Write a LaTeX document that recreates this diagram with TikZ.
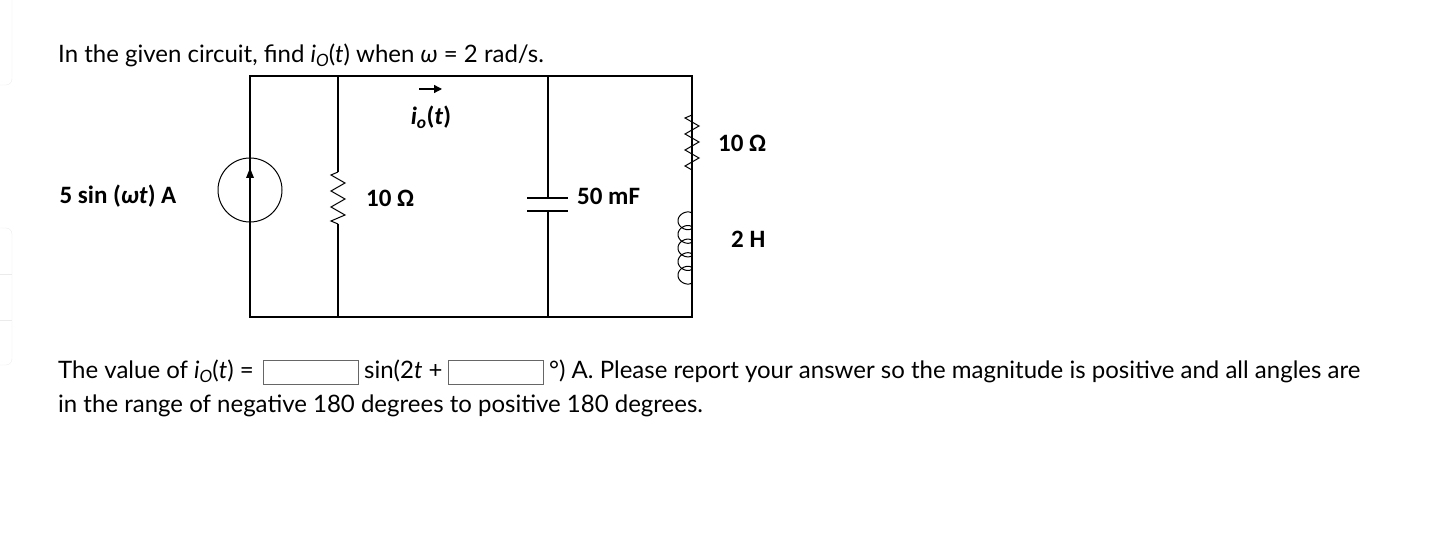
\documentclass[tikz,border=0pt]{standalone}
\usepackage{fontspec}
\setmainfont{Lato}
\newfontfamily\calfont{Carlito}
\usetikzlibrary{arrows.meta}
\begin{document}
\begin{tikzpicture}[x=1pt,y=-1pt,
  wire/.style={line width=1.3pt},
  lbl/.style={font=\calfont\bfseries\fontsize{25}{28}\selectfont,inner sep=0},
  txt/.style={font=\fontsize{24}{28}\selectfont,anchor=west,inner sep=0},
  ans/.style={draw=black!60,line width=0.6pt}]
\useasboundingbox (0,0) rectangle (1430,545);
% faint side boxes
\draw[black!8,rounded corners=6] (-10,-10) rectangle (12,85);
\draw[black!8,rounded corners=6] (-10,228) rectangle (12,365);
\draw[black!8] (-10,274)--(12,274) (-10,320)--(12,320);
\node[txt] (q) at (58,55) {In the given circuit, find \textit{i}\raisebox{-0.35ex}{\fontsize{17}{18}\selectfont\textit{O}}(\textit{t}) when \textit{ω} = 2 rad/s.};
% nodes
\coordinate (tl) at (250,76); \coordinate (tr) at (692,76);
\coordinate (bl) at (250,317); \coordinate (br) at (692,317);
\coordinate (rt) at (338,76); \coordinate (rb) at (338,317);
\coordinate (ct) at (548,76); \coordinate (cb) at (548,317);
\node[draw,circle,minimum size=64pt,line width=1pt,inner sep=0] (src) at (250,190) {};
\draw[wire] (tl)--(src.north) (src.south)--(bl);
\draw[wire] (tl)--(tr)--(br)--(bl)--cycle;
\coordinate (sa) at (250,208); \coordinate (sb) at (250,177);
\draw[line width=1.2pt] (sa)--(sb);
\fill (250,168)--(246,178)--(254,178)--cycle;
% resistor 1
\coordinate (r1a) at (338,172); \coordinate (r1b) at (338,224);
\draw[wire] (rt)--(r1a) (r1b)--(rb);
\draw[line width=1pt] (r1a)--(331,175)--(345,183)--(331,191)--(345,199)--(331,207)--(345,215)--(331,221)--(r1b);
% capacitor
\coordinate (c1) at (548,198); \coordinate (c2) at (548,211);
\draw[wire] (ct)--(c1) (c2)--(cb);
\draw[line width=1.2pt] (527,198)--(568,198) (527,211)--(568,211);
% right branch resistor
\coordinate (r2a) at (692,115); \coordinate (r2b) at (692,170);
\draw[line width=1pt] (r2a)--(685,118)--(699,126)--(685,134)--(699,142)--(685,150)--(699,158)--(685,166)--(r2b);
\coordinate (la) at (692,214); \coordinate (lb) at (692,282);
\draw[wire] (tr)--(r2a) (r2b)--(la) (lb)--(br);
\draw[line width=1pt] plot[domain=0:31.4159,samples=200,smooth] ({692-7*(1-cos(\x r))},{214+2.1645*\x-5*sin(\x r)});
% labels
\node[lbl] (l1) at (118,196) {5 sin (\textit{ωt}) A};
\node[lbl,anchor=west] (l2) at (366,198) {10 Ω};
\node[lbl,anchor=west] (l3) at (577,196) {50 mF};
\node[lbl,anchor=west] (l4) at (718,143) {10 Ω};
\node[lbl,anchor=west] (l5) at (731,239) {2 H};
\node[lbl] (io) at (431,117) {\textit{i\textsubscript{o}}(\textit{t})};
\draw[line width=1.3pt,-{Triangle[length=8pt,width=8pt]}] (419,89)--(442,89);
% answer text
\node[txt] (a1) at (58,371) {The value of \textit{i}\raisebox{-0.35ex}{\fontsize{17}{18}\selectfont\textit{O}}(\textit{t}) =};
\node[ans,minimum width=95pt,minimum height=24pt,anchor=west] (b1) at (263,372) {};
\node[txt] (a2) at (364,371) {sin(2\textit{t} +};
\node[ans,minimum width=95pt,minimum height=24pt,anchor=west] (b2) at (448,372) {};
\node[txt] (a3) at (549,371) {°) A. Please report your answer so the magnitude is positive and all angles are};
\node[txt] (a4) at (58,406) {in the range of negative 180 degrees to positive 180 degrees.};
\end{tikzpicture}
\end{document}
